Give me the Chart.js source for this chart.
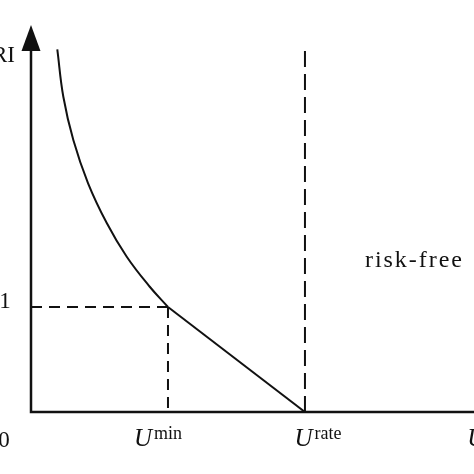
<!DOCTYPE html>
<html>
<head>
<meta charset="utf-8">
<script src="https://cdn.jsdelivr.net/npm/chart.js@4/dist/chart.umd.min.js"></script>
<style>
  html, body { margin: 0; padding: 0; background: #fff; }
  #wrap { width: 474px; height: 474px; }
</style>
</head>
<body>
<div id="wrap"><canvas id="c" width="474" height="474"></canvas></div>
<script>
// ---- data ----
const curveX = [0.192, 0.236, 0.309, 0.416, 0.553, 0.699, 0.867, 1.0];
const curveY = [3.454, 3.003, 2.590, 2.181, 1.800, 1.479, 1.193, 1.0];
const lineX = [1.0, 2.0];
const lineY = [1.0, 0.0];
const uMin = 1.0;          // U^min
const uRate = 2.0;         // U^rate
const riAtUMin = 1.0;      // RI = 1
const rateDashTop = 3.495; // top of U^rate dashed line
const xTickValues = [0, 1, 2, 3.25];
const xTickMain = ['0', 'U', 'U', 'U'];
const xTickSup = ['', 'min', 'rate', ''];
const yTickValues = [1];
const yTickLabels = ['1'];
const yAxisTitle = 'RI';
const regionLabel = 'risk-free';
const regionLabelPos = [2.792, 1.457];

const xMax = 3.234, yMax = 3.686;

const toPts = (xs, ys) => xs.map((x, i) => ({ x: x, y: ys[i] }));

const serif = "'Liberation Serif', 'Times New Roman', serif";

function spacedText(ctx, text, cx, base, targetW) {
  const chars = [...text];
  const widths = chars.map(c => ctx.measureText(c).width);
  const natural = widths.reduce((a, b) => a + b, 0);
  const gap = (targetW - natural) / (chars.length - 1);
  let x = cx - targetW / 2;
  ctx.textAlign = 'left';
  chars.forEach((c, i) => { ctx.fillText(c, x, base); x += widths[i] + gap; });
}

const decor = {
  id: 'decor',
  beforeDatasetsDraw(chart) {
    const ctx = chart.ctx, xs = chart.scales.x, ys = chart.scales.y;
    const x0 = xs.getPixelForValue(0), y0 = ys.getPixelForValue(0);
    ctx.save();
    ctx.strokeStyle = '#111';
    ctx.lineWidth = 2.5;
    ctx.beginPath();
    ctx.moveTo(x0, y0);
    ctx.lineTo(chart.width, y0);
    ctx.moveTo(x0, y0 + 1.25);
    ctx.lineTo(x0, ys.top + 20);
    ctx.stroke();
    // arrow head
    const tipY = ys.getPixelForValue(yMax);
    ctx.fillStyle = '#111';
    ctx.beginPath();
    ctx.moveTo(x0, tipY);
    ctx.lineTo(x0 - 9.5, tipY + 26);
    ctx.lineTo(x0 + 9.5, tipY + 26);
    ctx.closePath();
    ctx.fill();
    ctx.restore();
  },
  afterDatasetsDraw(chart) {
    const ctx = chart.ctx, xs = chart.scales.x, ys = chart.scales.y;
    const x0 = xs.getPixelForValue(0), y0 = ys.getPixelForValue(0);
    const dx = [-27, -25, -1.5, 0];
    ctx.save();
    ctx.fillStyle = '#111';
    ctx.textBaseline = 'alphabetic';
    xTickValues.forEach((v, i) => {
      const px = xs.getPixelForValue(v) + dx[i];
      const base = y0 + 34;
      if (xTickMain[i] === 'U') {
        ctx.font = 'italic 25px ' + serif;
        const w = ctx.measureText('U').width;
        ctx.textAlign = 'left';
        ctx.fillText('U', px - w / 2, base);
        if (xTickSup[i]) {
          ctx.font = '18px ' + serif;
          ctx.fillText(xTickSup[i], px + w / 2 + 2, base - 7);
        }
      } else {
        ctx.font = '23px ' + serif;
        ctx.textAlign = 'center';
        ctx.fillText(xTickMain[i], px, base + 1);
      }
    });
    // y tick labels
    ctx.font = '23px ' + serif;
    ctx.textAlign = 'center';
    yTickValues.forEach((v, i) => {
      ctx.fillText(yTickLabels[i], x0 - 26, ys.getPixelForValue(v) + 1);
    });
    // y axis title
    ctx.textAlign = 'right';
    ctx.fillText(yAxisTitle, x0 - 16, ys.top + 37);
    // region label
    ctx.font = '24px ' + serif;
    spacedText(ctx, regionLabel, xs.getPixelForValue(regionLabelPos[0]), ys.getPixelForValue(regionLabelPos[1]) + 8, 97);
    ctx.restore();
  }
};

new Chart(document.getElementById('c'), {
  type: 'scatter',
  data: {
    datasets: [
      { data: toPts(curveX, curveY), showLine: true, borderColor: '#111', borderWidth: 2, pointRadius: 0, tension: 0.4 },
      { data: toPts(lineX, lineY), showLine: true, borderColor: '#111', borderWidth: 2, pointRadius: 0, tension: 0 },
      { data: toPts([0, uMin], [riAtUMin, riAtUMin]), showLine: true, borderColor: '#111', borderWidth: 2, borderDash: [11, 7], pointRadius: 0 },
      { data: toPts([uMin, uMin], [riAtUMin, 0]), showLine: true, borderColor: '#111', borderWidth: 2, borderDash: [11, 7], pointRadius: 0 },
      { data: toPts([uRate, uRate], [0, rateDashTop]), showLine: true, borderColor: '#111', borderWidth: 2, borderDash: [16, 7], pointRadius: 0 }
    ]
  },
  options: {
    responsive: false,
    animation: false,
    events: [],
    layout: { padding: { left: 31, top: 25, right: 0, bottom: 62 } },
    plugins: { legend: { display: false }, tooltip: { enabled: false } },
    scales: {
      x: { type: 'linear', min: 0, max: xMax, display: false },
      y: { type: 'linear', min: 0, max: yMax, display: false }
    }
  },
  plugins: [decor]
});
</script>
</body>
</html>
